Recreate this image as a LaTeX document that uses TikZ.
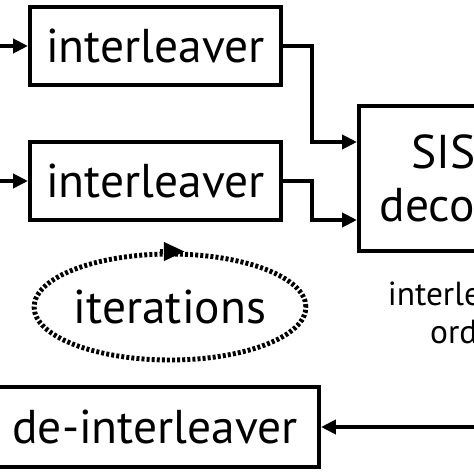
\documentclass[tikz,border=0pt]{standalone}
\usepackage{fontspec}
\setmainfont{PT Sans}
\usetikzlibrary{arrows.meta, positioning, calc, shapes.geometric}

\begin{document}
\begin{tikzpicture}[
  font=\fontsize{27}{30}\selectfont,
  blocco/.style={draw=black, line width=2.3pt, align=center, inner sep=0pt},
  punta/.style={-{Triangle[length=8.5pt,width=8pt]}},
  collegamento/.style={draw=black, line width=2.3pt, punta},
  anello/.style={draw=black, ellipse, line width=2.8pt, dash pattern=on 1.7pt off 1.2pt,
                 minimum width=5.28cm, minimum height=2.12cm, inner sep=0pt},
  giro/.style={draw=black, line width=2.8pt, dash pattern=on 1.7pt off 1.2pt,
               -{Triangle[length=12pt,width=10pt]}}
]
\useasboundingbox (0,0) rectangle (9.48,-9.48);
\clip (0,0) rectangle (9.48,-9.48);

% blocchi
\node[blocco, minimum width=5.02cm, minimum height=1.56cm] (int1) at (3.11,-0.92) {interleaver};
\node[blocco, minimum width=5.02cm, minimum height=1.56cm] (int2) at (3.11,-3.62) {interleaver};
\node[blocco, minimum width=4.04cm, minimum height=2.9cm] (siso) at (9.2,-3.57) {SISO\\decoder};
\node[align=center, font=\fontsize{19}{22}\selectfont] (ordine) at (9.36,-6.26) {interleaved\\order};
\node[anello] (iter) at (3.4,-6.14) {iterations};
\node[blocco, minimum width=6.56cm, minimum height=1.6cm] (deint) at (3.1,-8.54) {de-interleaver};

% ingressi
\coordinate (in1) at (-0.5,-0.92);
\coordinate (in2) at (-0.5,-3.62);
\coordinate (ritorno) at (10.2,-8.54);

\draw[collegamento] (in1) -- (int1);
\draw[collegamento] (in2) -- (int2);
\draw[collegamento] (int1.east) -- ++(0.58,0) |- ([yshift=0.73cm]siso.west);
\draw[collegamento] (int2.east) -- ++(0.58,0) |- ([yshift=-0.83cm]siso.west);
\draw[collegamento] (ritorno) -- (deint.east);

% freccia iterazioni
\draw[giro] ([xshift=-0.2cm]iter.north) -- ([xshift=0.3cm]iter.north);

\end{tikzpicture}
\end{document}
